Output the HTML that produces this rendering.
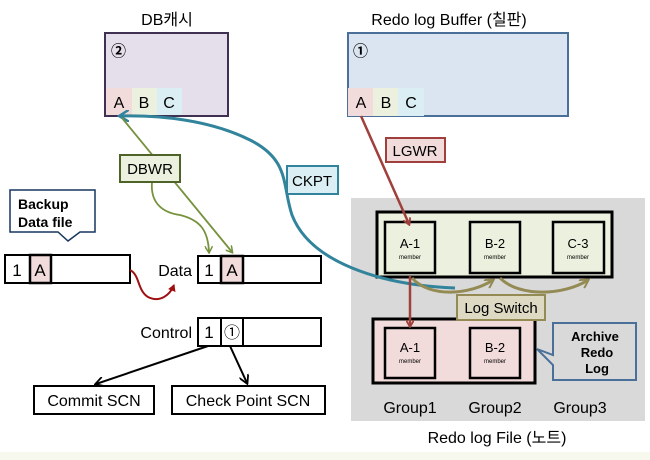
<!DOCTYPE html>
<html><head><meta charset="utf-8"><style>
body{margin:0;background:#fff;}
svg{display:block;font-family:"Liberation Sans","Noto Sans CJK KR",sans-serif;}
</style></head><body>
<svg width="650" height="460" viewBox="0 0 650 460" xmlns="http://www.w3.org/2000/svg">
<defs>
<marker id="ag" markerWidth="8" markerHeight="8" refX="6" refY="4" orient="auto" markerUnits="userSpaceOnUse"><path d="M0,0 L7,4 L0,8" fill="none" stroke="#76923c" stroke-width="1.5"/></marker>
<marker id="ar" markerWidth="8" markerHeight="8" refX="6" refY="4" orient="auto" markerUnits="userSpaceOnUse"><path d="M0,0 L7,4 L0,8" fill="none" stroke="#a0403c" stroke-width="1.8"/></marker>
<marker id="ad" markerWidth="8" markerHeight="8" refX="6" refY="4" orient="auto" markerUnits="userSpaceOnUse"><path d="M0,0 L7,4 L0,8 z" fill="#a01010"/></marker>
<marker id="ak" markerWidth="10" markerHeight="10" refX="8" refY="5" orient="auto" markerUnits="userSpaceOnUse"><path d="M0,0 L9,5 L0,10" fill="none" stroke="#000" stroke-width="1.8"/></marker>
<marker id="at" markerWidth="12" markerHeight="12" refX="9" refY="6" orient="auto" markerUnits="userSpaceOnUse"><path d="M0,0 L10,6 L0,12" fill="none" stroke="#31849b" stroke-width="2.5"/></marker>
<marker id="ao" markerWidth="10" markerHeight="10" refX="8" refY="5" orient="auto" markerUnits="userSpaceOnUse"><path d="M0,0 L9,5 L0,10" fill="none" stroke="#948a54" stroke-width="2"/></marker>
</defs>
<rect x="0" y="452" width="650" height="8" fill="#f7f9ee"/>
<!-- DB cache -->
<text x="167" y="25" font-size="16" text-anchor="middle">DB캐시</text>
<rect x="105" y="33" width="123" height="83" fill="#e5dfec" stroke="#403152" stroke-width="2"/>
<text x="111" y="56" font-size="15" font-weight="bold">②</text>
<rect x="106" y="88" width="26" height="27" fill="#f2dcdb"/>
<rect x="132" y="88" width="25" height="27" fill="#ebf1de"/>
<rect x="157" y="88" width="25" height="27" fill="#dbeef4"/>
<text x="119" y="108" font-size="16" text-anchor="middle">A</text>
<text x="144" y="108" font-size="16" text-anchor="middle">B</text>
<text x="169" y="108" font-size="16" text-anchor="middle">C</text>
<!-- Redo buffer -->
<text x="449" y="25" font-size="16" text-anchor="middle">Redo log Buffer (칠판)</text>
<rect x="348" y="33" width="220" height="83" fill="#dbe5f1" stroke="#4a6f98" stroke-width="2"/>
<text x="353" y="56" font-size="15" font-weight="bold">①</text>
<rect x="348" y="88" width="25" height="28" fill="#f2dcdb"/>
<rect x="373" y="88" width="25" height="28" fill="#ebf1de"/>
<rect x="398" y="88" width="26" height="28" fill="#dbeef4"/>
<text x="361" y="108" font-size="16" text-anchor="middle">A</text>
<text x="386" y="108" font-size="16" text-anchor="middle">B</text>
<text x="411" y="108" font-size="16" text-anchor="middle">C</text>
<!-- gray area -->
<rect x="351" y="198" width="294" height="223" fill="#d9d9d9"/>
<rect x="377" y="212" width="235" height="65" fill="#ebf1de" stroke="#000" stroke-width="3"/>
<g font-size="13" text-anchor="middle">
<rect x="385" y="222" width="50" height="51" fill="#ebf1de" stroke="#000" stroke-width="2.5"/>
<text x="410" y="248">A-1</text><text x="410" y="259" font-size="6">member</text>
<rect x="470" y="222" width="50" height="51" fill="#ebf1de" stroke="#000" stroke-width="2.5"/>
<text x="495" y="248">B-2</text><text x="495" y="259" font-size="6">member</text>
<rect x="553" y="222" width="51" height="51" fill="#ebf1de" stroke="#000" stroke-width="2.5"/>
<text x="578" y="248">C-3</text><text x="578" y="259" font-size="6">member</text>
<rect x="373" y="319" width="162" height="64" fill="#f2dcdb" stroke="#000" stroke-width="3"/>
<rect x="385" y="328" width="50" height="50" fill="#f2dcdb" stroke="#000" stroke-width="2.5"/>
<text x="410" y="352">A-1</text><text x="410" y="363" font-size="6">member</text>
<rect x="470" y="328" width="50" height="50" fill="#f2dcdb" stroke="#000" stroke-width="2.5"/>
<text x="495" y="352">B-2</text><text x="495" y="363" font-size="6">member</text>
</g>
<!-- archive callout -->
<path d="M553,323 H636 V380 H553 V365 L537,349 L553,355 Z" fill="#d9d9d9" stroke="#4a6f98" stroke-width="2"/>
<g font-size="13" font-weight="bold" text-anchor="middle"><text x="595" y="341">Archive</text><text x="597" y="357">Redo</text><text x="597" y="373">Log</text></g>
<g font-size="16" text-anchor="middle"><text x="410" y="413">Group1</text><text x="495" y="413">Group2</text><text x="580" y="413">Group3</text></g>
<text x="497" y="443" font-size="16" text-anchor="middle">Redo log File (노트)</text>
<!-- teal CKPT curve -->
<path d="M455,288 C380,285 310,262 292,215 C282,185 290,160 250,140 C210,120 160,115 120,116" fill="none" stroke="#31849b" stroke-width="3" marker-end="url(#at)"/>
<!-- log switch arrows -->
<path d="M412,278 C430,298 470,295 493,280" fill="none" stroke="#948a54" stroke-width="3" marker-end="url(#ao)"/>
<path d="M500,278 C520,298 565,295 588,280" fill="none" stroke="#948a54" stroke-width="3" marker-end="url(#ao)"/>
<rect x="457" y="295" width="88" height="25" fill="#ddd9c3" stroke="#948a54" stroke-width="2"/>
<text x="501" y="313" font-size="15" text-anchor="middle">Log Switch</text>
<!-- LGWR -->
<line x1="361" y1="116" x2="409" y2="224" stroke="#a0403c" stroke-width="2.5" marker-end="url(#ar)"/>
<rect x="386" y="138" width="59" height="24" fill="#f2dcdb" stroke="#a0403c" stroke-width="2"/>
<text x="415" y="156" font-size="15" text-anchor="middle">LGWR</text>
<line x1="410" y1="276" x2="410" y2="326" stroke="#a0403c" stroke-width="2.5" marker-end="url(#ar)"/>
<!-- CKPT box -->
<rect x="287" y="166" width="51" height="28" fill="#dbeef4" stroke="#31849b" stroke-width="2"/>
<text x="312" y="186" font-size="15" text-anchor="middle">CKPT</text>
<!-- DBWR -->
<path d="M122,118 L232,252" fill="none" stroke="#76923c" stroke-width="1.8" marker-end="url(#ag)"/>
<path d="M152,182 C150,205 165,213 180,215 C200,220 208,230 209,252" fill="none" stroke="#76923c" stroke-width="1.8" marker-end="url(#ag)"/>
<rect x="120" y="155" width="60" height="27" fill="#ebf1de" stroke="#4f6228" stroke-width="2"/>
<text x="150" y="174" font-size="15" text-anchor="middle">DBWR</text>
<!-- Backup callout -->
<path d="M10,190 H95 V232 H80 L68,241 L58,232 H10 Z" fill="#fff" stroke="#17375e" stroke-width="1.5"/>
<g font-size="14" font-weight="bold"><text x="18" y="209">Backup</text><text x="18" y="227">Data file</text></g>
<!-- rows -->
<rect x="5" y="255" width="125" height="28" fill="#fff" stroke="#000" stroke-width="2"/>
<line x1="30" y1="255" x2="30" y2="283" stroke="#000" stroke-width="2"/>
<rect x="30" y="255" width="21" height="28" fill="#f2dcdb" stroke="#000" stroke-width="2.5"/>
<text x="17" y="276" font-size="17" text-anchor="middle">1</text>
<text x="40" y="276" font-size="17" text-anchor="middle">A</text>
<path d="M130,270 C140,275 137,290 148,297 C160,303 170,295 174,285" fill="none" stroke="#a01010" stroke-width="2" marker-end="url(#ad)"/>
<text x="192" y="276" font-size="16" text-anchor="end">Data</text>
<rect x="198" y="256" width="123" height="27" fill="#fff" stroke="#000" stroke-width="2"/>
<rect x="221" y="256" width="22" height="27" fill="#f2dcdb" stroke="#000" stroke-width="2.5"/>
<text x="209" y="276" font-size="17" text-anchor="middle">1</text>
<text x="232" y="276" font-size="17" text-anchor="middle">A</text>
<text x="192" y="338" font-size="16" text-anchor="end">Control</text>
<rect x="198" y="318" width="123" height="28" fill="#fff" stroke="#000" stroke-width="2"/>
<line x1="221" y1="318" x2="221" y2="346" stroke="#000" stroke-width="2"/>
<line x1="243" y1="318" x2="243" y2="346" stroke="#000" stroke-width="2"/>
<text x="209" y="338" font-size="17" text-anchor="middle">1</text>
<text x="232" y="338" font-size="16" text-anchor="middle">①</text>
<line x1="208" y1="346" x2="96" y2="384" stroke="#000" stroke-width="2" marker-end="url(#ak)"/>
<line x1="230" y1="346" x2="247" y2="383" stroke="#000" stroke-width="2" marker-end="url(#ak)"/>
<rect x="34" y="386" width="120" height="28" fill="#fff" stroke="#000" stroke-width="2"/>
<text x="94" y="406" font-size="16" text-anchor="middle">Commit SCN</text>
<rect x="172" y="386" width="153" height="28" fill="#fff" stroke="#000" stroke-width="2"/>
<text x="248" y="406" font-size="16" text-anchor="middle">Check Point SCN</text>
</svg>
</body></html>
